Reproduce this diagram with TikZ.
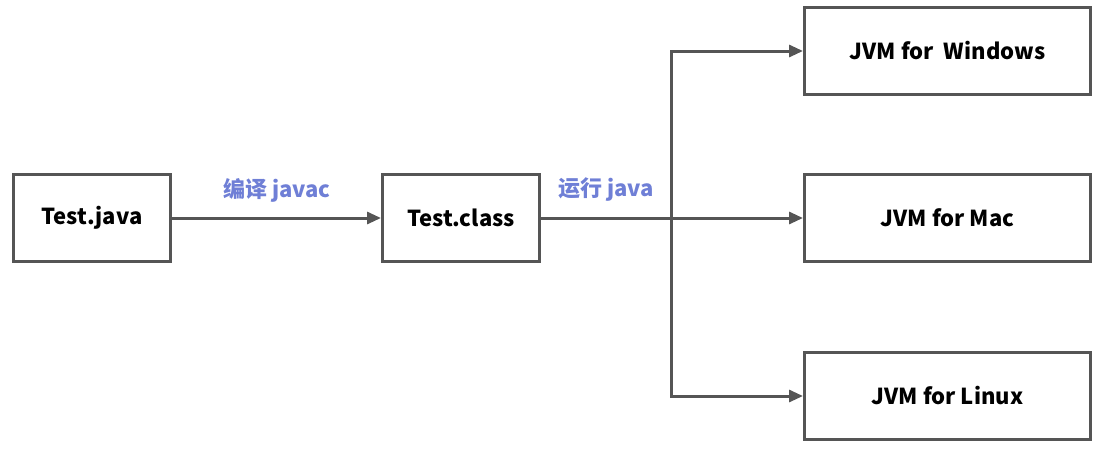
\documentclass[tikz,border=0pt]{standalone}
\usepackage{fontspec}
\setmainfont{Noto Sans CJK SC}
\usetikzlibrary{arrows.meta}
\definecolor{ln}{HTML}{555555}
\definecolor{lb}{HTML}{6F7FD6}
\begin{document}
\begin{tikzpicture}[x=1pt,y=-1pt,
  box/.style={draw=ln,line width=3pt,minimum width=157pt,minimum height=87pt,font=\fontsize{22}{26}\selectfont\bfseries,inner sep=0pt},
  wbox/.style={box,minimum width=286pt},
  arr/.style={draw=ln,line width=3pt,-{Triangle[length=14pt,width=12pt]}},
  lab/.style={text=lb,font=\fontsize{22}{26}\selectfont\bfseries}]
\useasboundingbox (0,0) rectangle (1110,448);
\node[box] (a) at (92,218) {Test.java};
\node[box] (b) at (461,218) {Test.class};
\node[wbox] (w) at (947.5,51) {JVM for\ \ Windows};
\node[wbox] (m) at (947.5,218) {JVM for Mac};
\node[wbox] (l) at (947.5,396) {JVM for Linux};
\coordinate (j) at (671,218);
\draw[arr] (a) -- (b);
\draw[draw=ln,line width=3pt] (b) -- (j);
\draw[arr] (j) |- (w);
\draw[arr] (j) -- (m);
\draw[arr] (j) |- (l);
\node[lab] (t1) at (277,190) {编译 javac};
\node[lab] (t2) at (606,190) {运行 java};
\end{tikzpicture}
\end{document}
